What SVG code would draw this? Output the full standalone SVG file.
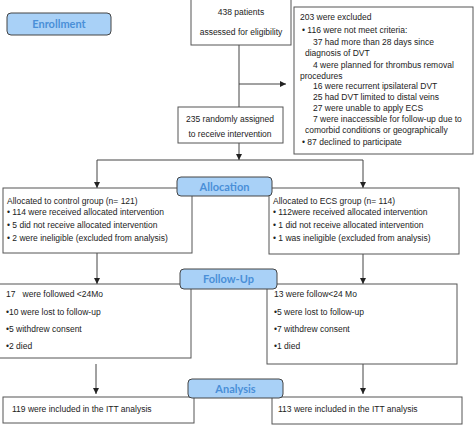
<svg xmlns="http://www.w3.org/2000/svg" width="474" height="428" viewBox="0 0 474 428">
<style>
.box{fill:#fff;stroke:#555;stroke-width:1}
.lab{fill:#a9d1f7;stroke:#444;stroke-width:1}
.lt{font-family:Lato,"Liberation Sans",sans-serif;font-weight:bold;font-size:11px;fill:#4a8fd8;text-anchor:middle}
.t{font-family:"Liberation Sans",Arial,sans-serif;font-size:8.5px;fill:#222}
.c{text-anchor:middle}
.ln{stroke:#444;stroke-width:1;fill:none}
</style>
<defs>
<marker id="ah" viewBox="0 0 8 8" refX="8" refY="4" markerWidth="6" markerHeight="6" orient="auto" markerUnits="userSpaceOnUse">
<path d="M0,0 L8,4 L0,8 z" fill="#222"/>
</marker>
</defs>
<rect width="474" height="428" fill="#fff"/>
<g id="connectors">
<path class="ln" d="M239,45 V107"/>
<path class="ln" d="M239,84 H286" marker-end="url(#ah)"/>
<path class="ln" d="M239,143 V160" marker-end="url(#ah)"/>
<path class="ln" d="M97,160 H363"/>
<path class="ln" d="M97,160 V188" marker-end="url(#ah)"/>
<path class="ln" d="M363,160 V188" marker-end="url(#ah)"/>
<path class="ln" d="M97,253 V284" marker-end="url(#ah)"/>
<path class="ln" d="M363,254 V284" marker-end="url(#ah)"/>
<path class="ln" d="M96,364 V394" marker-end="url(#ah)"/>
<path class="ln" d="M363,364 V394" marker-end="url(#ah)"/>
</g>
<g id="enrollment">
<rect class="lab" x="7" y="13" width="104" height="22" rx="4"/>
<text class="lt" x="59" y="28">Enrollment</text>
</g>
<g id="assessed">
<rect class="box" x="191" y="-1" width="100" height="46"/>
<text class="t c" x="241" y="15">438 patients</text>
<text class="t c" x="241" y="35">assessed for eligibility</text>
</g>
<g id="excluded">
<rect class="box" x="294" y="7" width="179" height="147"/>
<text class="t" x="300" y="20">203 were excluded</text>
<text class="t" x="302" y="33">• 116 were not meet criteria:</text>
<text class="t" x="313" y="45">37 had more than 28 days since</text>
<text class="t" x="305" y="56">diagnosis of DVT</text>
<text class="t" x="313" y="68">4 were planned for thrombus removal</text>
<text class="t" x="300" y="79">procedures</text>
<text class="t" x="313" y="89">16 were recurrent ipsilateral DVT</text>
<text class="t" x="313" y="100">25 had DVT limited to distal veins</text>
<text class="t" x="313" y="111">27 were unable to apply ECS</text>
<text class="t" x="313" y="122">7 were inaccessible for follow-up due to</text>
<text class="t" x="305" y="133">comorbid conditions or geographically</text>
<text class="t" x="302" y="145">• 87 declined to participate</text>
</g>
<g id="randomized">
<rect class="box" x="178" y="107" width="105" height="36"/>
<text class="t c" x="230" y="122">235 randomly assigned</text>
<text class="t c" x="230" y="137">to receive intervention</text>
</g>
<g id="control-alloc">
<rect class="box" x="3" y="188" width="189" height="65"/>
<text class="t" x="7" y="204">Allocated to control group (n= 121)</text>
<text class="t" x="7" y="215">• 114 were received allocated intervention</text>
<text class="t" x="7" y="228">• 5 did not receive allocated intervention</text>
<text class="t" x="7" y="241">• 2 were ineligible (excluded from analysis)</text>
</g>
<g id="ecs-alloc">
<rect class="box" x="269" y="188" width="190" height="66"/>
<text class="t" x="273" y="204">Allocated to ECS group (n= 114)</text>
<text class="t" x="273" y="215">• 112were received allocated intervention</text>
<text class="t" x="273" y="228">• 1 did not receive allocated intervention</text>
<text class="t" x="273" y="241">• 1 was ineligible (excluded from analysis)</text>
</g>
<g id="allocation">
<rect class="lab" x="177" y="177" width="95" height="19" rx="4"/>
<text class="lt" x="224.5" y="190.5">Allocation</text>
</g>
<g id="control-followup">
<rect class="box" x="-1" y="284" width="192" height="74"/>
<text class="t" x="6" y="297" xml:space="preserve" style="white-space:pre">17   were followed &lt;24Mo</text>
<text class="t" x="6" y="315">•10 were lost to follow-up</text>
<text class="t" x="6" y="332">•5 withdrew consent</text>
<text class="t" x="6" y="349">•2 died</text>
</g>
<g id="ecs-followup">
<rect class="box" x="267" y="284" width="190" height="80"/>
<text class="t" x="274" y="297">13 were follow&lt;24 Mo</text>
<text class="t" x="274" y="315">•5 were lost to follow-up</text>
<text class="t" x="274" y="332">•7 withdrew consent</text>
<text class="t" x="274" y="349">•1 died</text>
</g>
<g id="followup">
<rect class="lab" x="180" y="269" width="97" height="20" rx="4"/>
<text class="lt" x="228.5" y="283">Follow-Up</text>
</g>
<g id="control-analysis">
<rect class="box" x="3" y="397" width="191" height="26"/>
<text class="t" x="12" y="412">119 were included in the ITT analysis</text>
</g>
<g id="ecs-analysis">
<rect class="box" x="272" y="397" width="190" height="27"/>
<text class="t" x="278" y="412">113 were included in the ITT analysis</text>
</g>
<g id="analysis">
<rect class="lab" x="188" y="379" width="95" height="19" rx="4"/>
<text class="lt" x="235.5" y="392.5">Analysis</text>
</g>
</svg>
